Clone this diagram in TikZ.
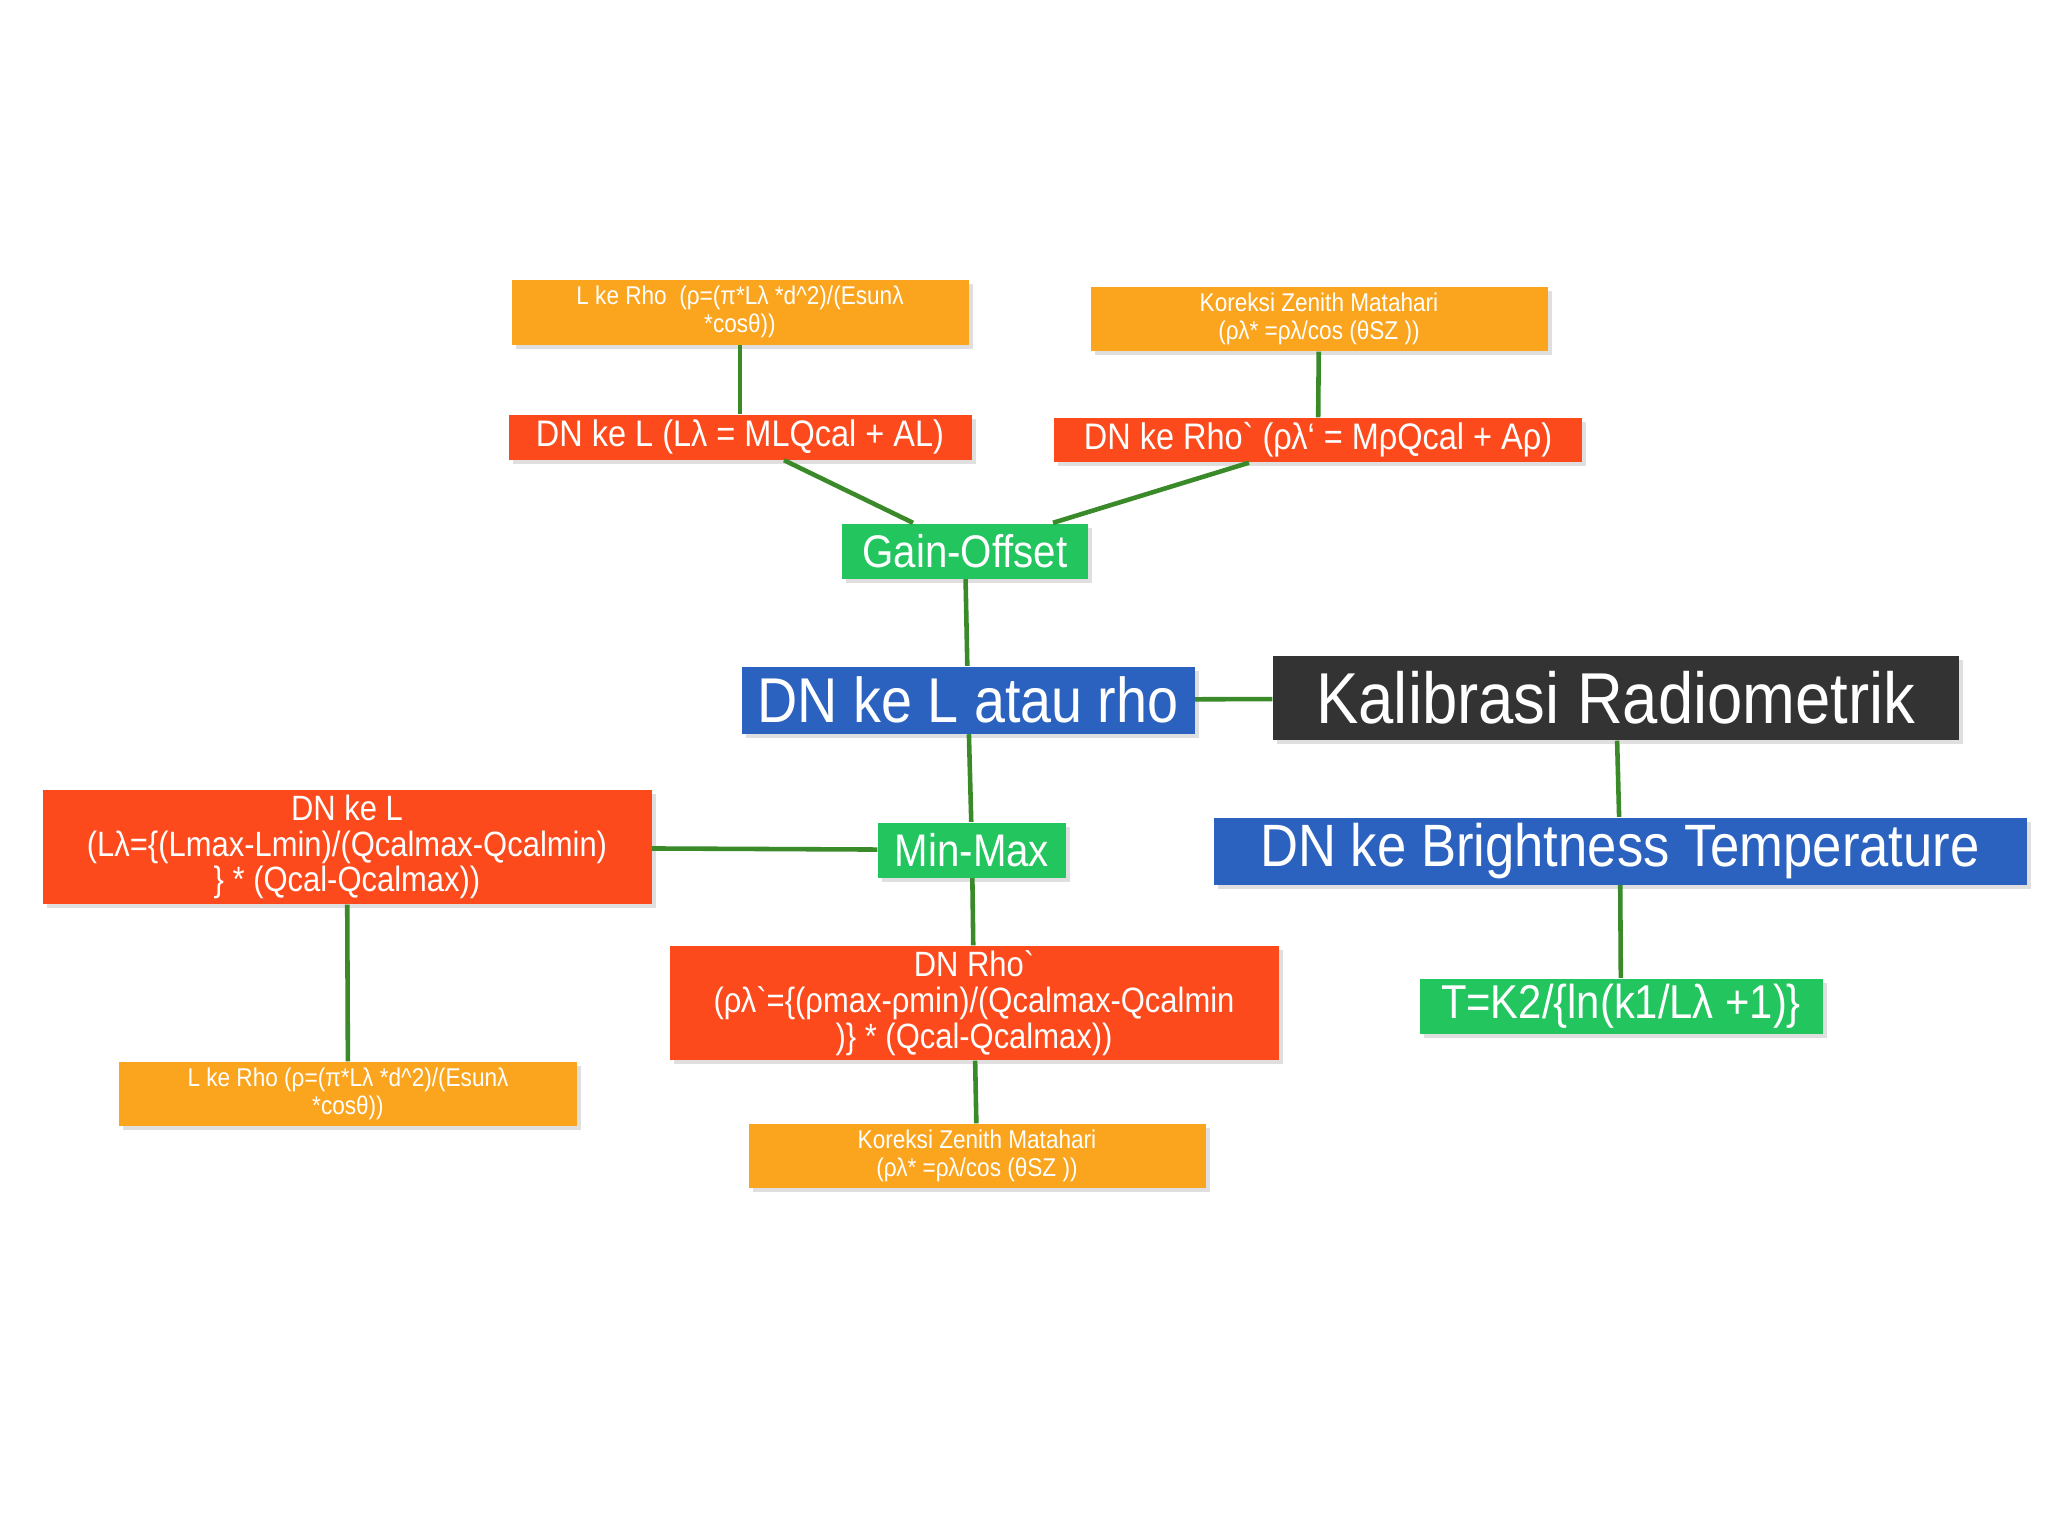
\documentclass[tikz,border=0pt]{standalone}
\usepackage{fontspec}
\setmainfont{Liberation Sans}
\newfontfamily\nar[FakeStretch=0.88]{Liberation Sans}
\usetikzlibrary{shadows,calc}
\definecolor{cor}{HTML}{FBA51F}
\definecolor{cred}{HTML}{FC4A1C}
\definecolor{cgr}{HTML}{22C55E}
\definecolor{cbl}{HTML}{2B62C0}
\definecolor{cdk}{HTML}{333333}
\definecolor{cln}{HTML}{3A8A2A}
\tikzset{
 bx/.style={fill=#1, text=white, inner sep=0pt, align=center, font=\nar,
   drop shadow={opacity=0.25, shadow xshift=0.04cm, shadow yshift=-0.04cm}},
 ln/.style={draw=cln, line width=1.3pt}
}
\begin{document}
\begin{tikzpicture}[x=0.01cm,y=-0.01cm]
\useasboundingbox (0,0) rectangle (2048,1536);
\fill[white] (0,0) rectangle (2048,1536);
\node[bx=cdk, minimum width=686*0.01cm, minimum height=84*0.01cm, font=\nar\fontsize{20.5}{24}\selectfont] (kal) at (1616,698) {Kalibrasi Radiometrik};
\node[bx=cbl, minimum width=453*0.01cm, minimum height=67*0.01cm, font=\nar\fontsize{18}{22}\selectfont] (dnr) at (968,700) {DN ke L atau rho};
\node[bx=cbl, minimum width=813*0.01cm, minimum height=67*0.01cm, font=\nar\fontsize{17}{22}\selectfont] (bt) at (1620,851) {DN ke Brightness Temperature};
\node[bx=cgr, minimum width=403*0.01cm, minimum height=55*0.01cm, font=\nar\fontsize{13.5}{16}\selectfont] (tk) at (1621,1006) {T=K2/\{ln(k1/Lλ +1)\}};
\node[bx=cgr, minimum width=246*0.01cm, minimum height=55*0.01cm, font=\nar\fontsize{13}{16}\selectfont] (go) at (965,551) {Gain-Offset};
\node[bx=cgr, minimum width=188*0.01cm, minimum height=55*0.01cm, font=\nar\fontsize{13}{16}\selectfont] (mm) at (972,850) {Min-Max};
\node[bx=cred, minimum width=463*0.01cm, minimum height=45*0.01cm, font=\nar\fontsize{10.5}{13}\selectfont] (dnl) at (740,437) {DN ke L (Lλ = MLQcal + AL)};
\node[bx=cred, minimum width=528*0.01cm, minimum height=44*0.01cm, font=\nar\fontsize{10.5}{13}\selectfont] (dnp) at (1318,440) {DN ke Rho` (ρλ‘ = MρQcal + Aρ)};
\node[bx=cor, minimum width=457*0.01cm, minimum height=65*0.01cm, font=\nar\fontsize{7.3}{8}\selectfont] (lr1) at (740,312) {L ke Rho~ (ρ=(π*Lλ *d\^{}2)/(Esunλ\\*cosθ))};
\node[bx=cor, minimum width=457*0.01cm, minimum height=64*0.01cm, font=\nar\fontsize{7.3}{8}\selectfont] (kz1) at (1319,319) {Koreksi Zenith Matahari\\(ρλ* =ρλ/cos (θSZ ))};
\node[bx=cred, minimum width=609*0.01cm, minimum height=114*0.01cm, font=\nar\fontsize{10}{10.2}\selectfont] (dll) at (347,847) {DN ke L\\(Lλ=\{(Lmax-Lmin)/(Qcalmax-Qcalmin)\\\} * (Qcal-Qcalmax))};
\node[bx=cor, minimum width=458*0.01cm, minimum height=64*0.01cm, font=\nar\fontsize{7.3}{8}\selectfont] (lr2) at (348,1094) {L ke Rho (ρ=(π*Lλ *d\^{}2)/(Esunλ\\*cosθ))};
\node[bx=cred, minimum width=609*0.01cm, minimum height=114*0.01cm, font=\nar\fontsize{10}{10.2}\selectfont] (drm) at (974,1003) {DN Rho`\\(ρλ`=\{(ρmax-ρmin)/(Qcalmax-Qcalmin\\)\} * (Qcal-Qcalmax))};
\node[bx=cor, minimum width=457*0.01cm, minimum height=64*0.01cm, font=\nar\fontsize{7.3}{8}\selectfont] (kz2) at (977,1156) {Koreksi Zenith Matahari\\(ρλ* =ρλ/cos (θSZ ))};
% connectors
\draw[ln] (lr1) -- (dnl);
\draw[ln] (kz1) -- (dnp);
\draw[ln] ($(dnl.south)+(44,0)$) -- ($(go.north)+(-52,0)$);
\draw[ln] ($(dnp.south)+(-69,0)$) -- ($(go.north)+(88,0)$);
\draw[ln] (go) -- (dnr);
\draw[ln] (dnr) -- (kal);
\draw[ln] (dnr) -- (mm);
\draw[ln] (mm) -- (dll);
\draw[ln] (mm) -- (drm);
\draw[ln] (drm) -- (kz2);
\draw[ln] (dll) -- (lr2);
\draw[ln] (kal) -- (bt);
\draw[ln] (bt) -- (tk);
\end{tikzpicture}
\end{document}
